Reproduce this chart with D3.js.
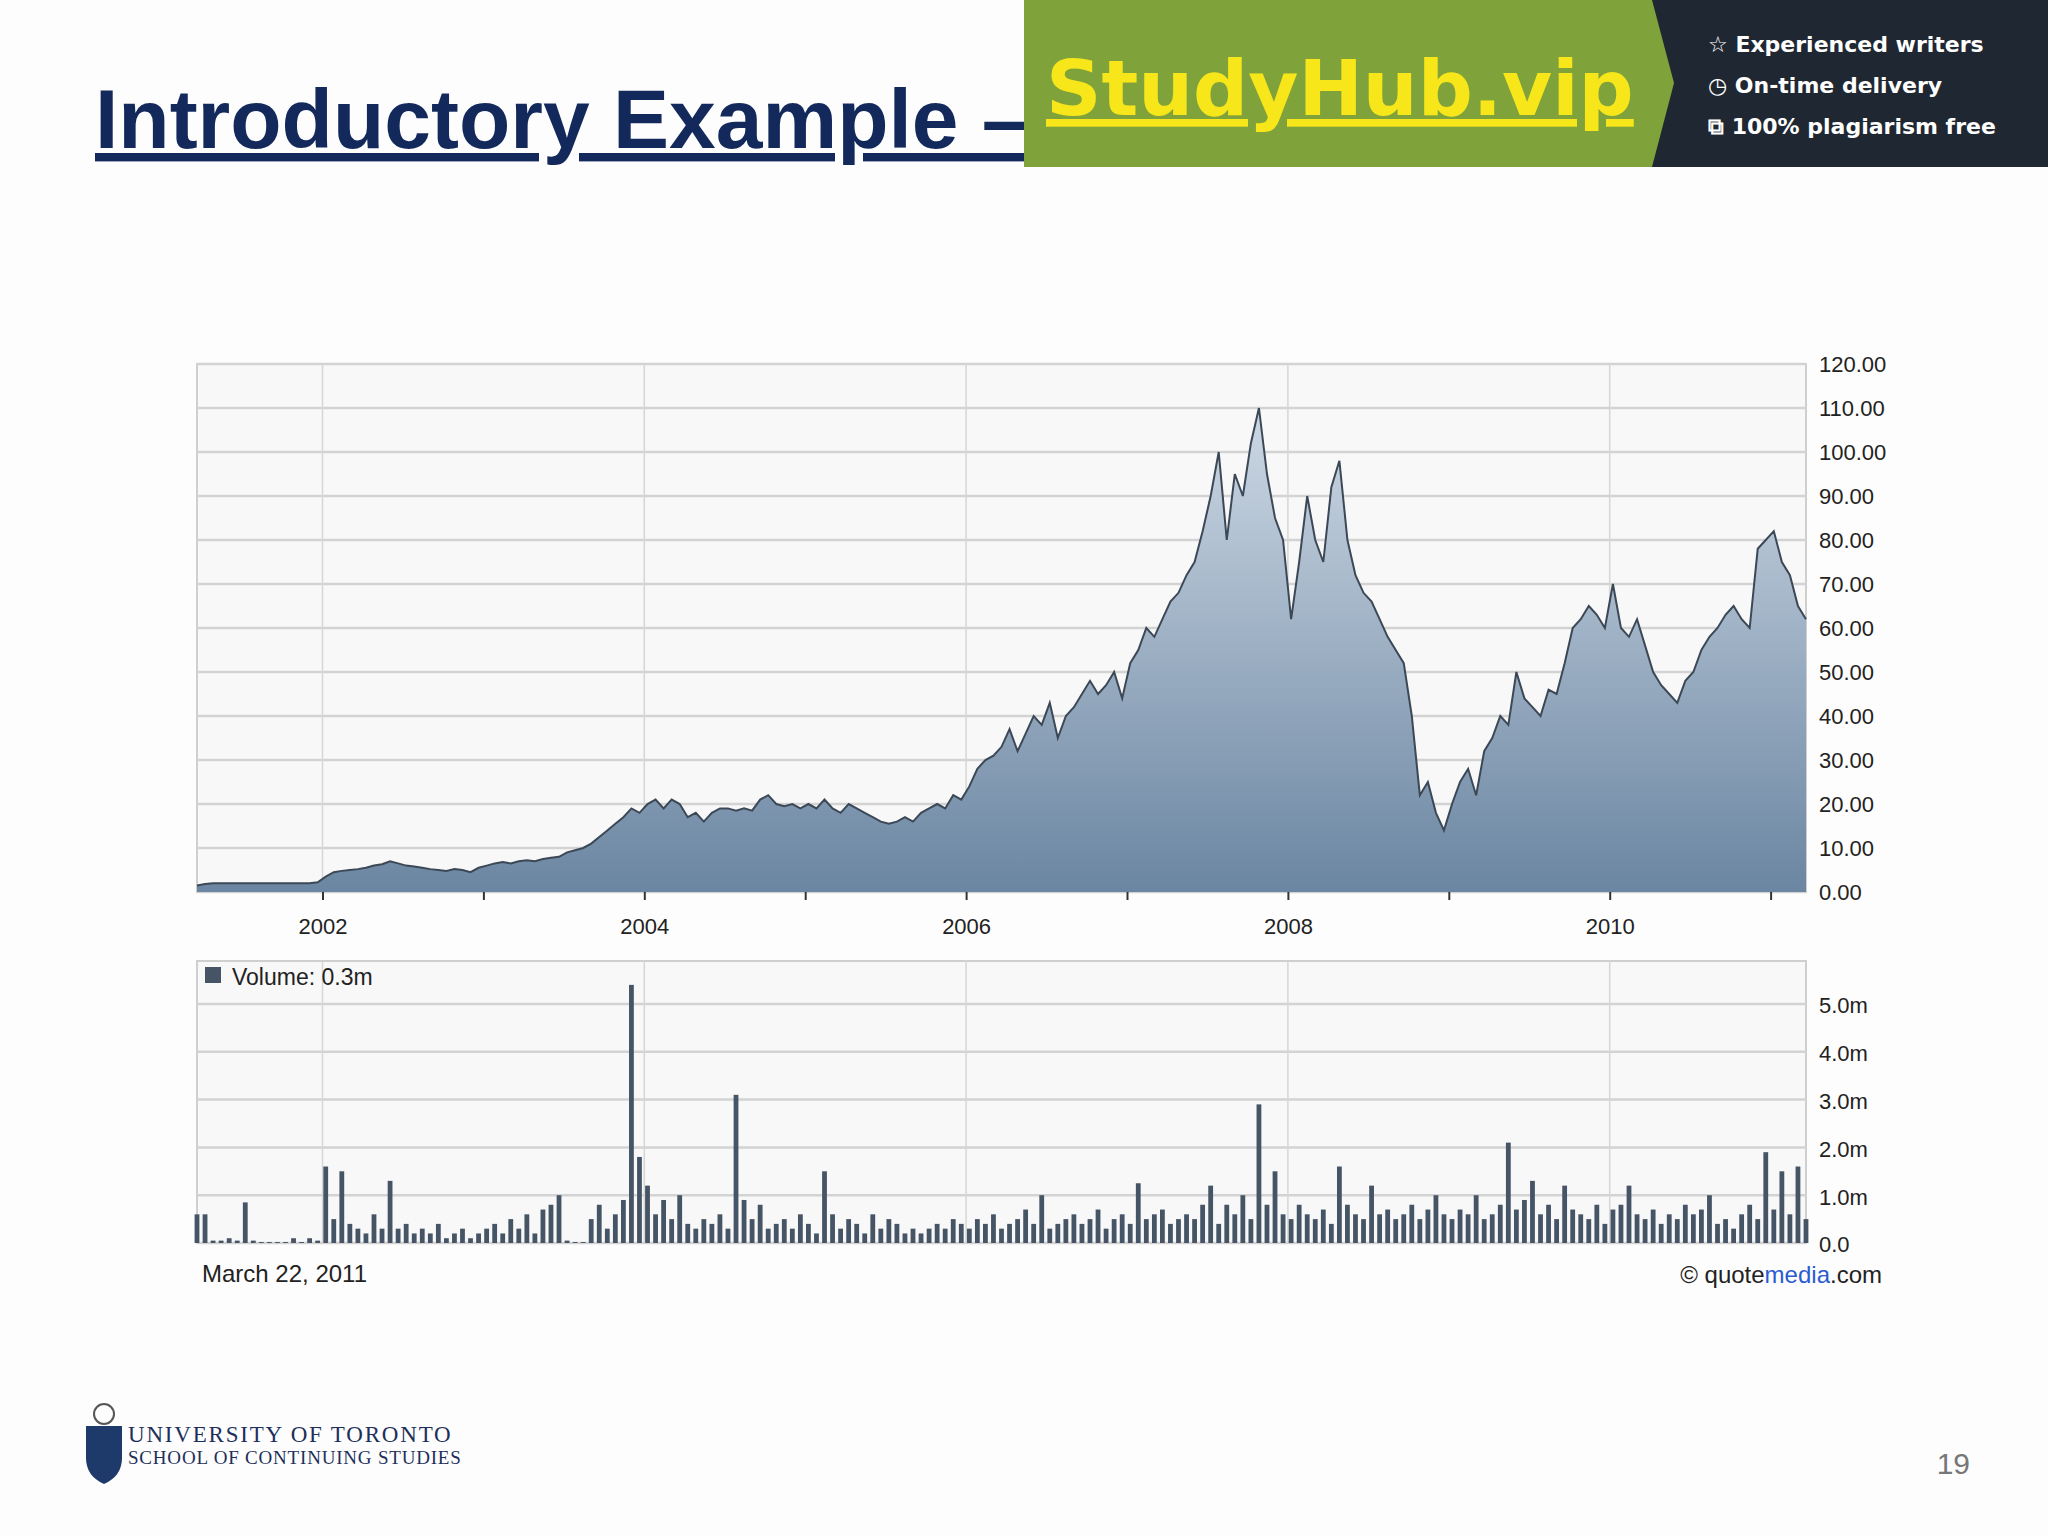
<!DOCTYPE html>
<html><head><meta charset="utf-8">
<script src="https://cdn.jsdelivr.net/npm/d3@7"></script>
<style>body{margin:0;background:#fdfdfd}svg{display:block}</style>
</head><body>
<svg id="slide" width="2048" height="1536"></svg>
<script>
// time grid: one sample every 0.05 year, from 2001.22 to 2011.22
const startYear = 2001.22, stepYear = 0.05;

const prices = [
  1.5,1.8,2,2,2,2,2,2,2,2,2,2,2,2,2,2.2,
  3.5,4.5,4.8,5,5.2,5.5,6,6.3,7,6.5,6,5.8,5.5,5.2,5,4.8,5.2,5,4.5,5.5,
  6,6.5,6.8,6.5,7,7.2,7,7.5,7.8,8,9,9.5,10,11,12.5,14,15.5,17,19,18,
  20,21,19,21,20,17,18,16,18,19,19,18.5,19,18.5,21,22,20,19.5,20,19,
  20,19,21,19,18,20,19,18,17,16,15.5,16,17,16,18,19,20,19,22,21,
  24,28,30,31,33,37,32,36,40,38,43,35,40,42,45,48,45,47,50,44,
  52,55,60,58,62,66,68,72,75,82,90,100,80,95,90,102,110,95,85,80,
  62,75,90,80,75,92,98,80,72,68,66,62,58,55,52,40,22,25,18,14,
  20,25,28,22,32,35,40,38,50,44,42,40,46,45,52,60,62,65,63,60,
  70,60,58,62,56,50,47,45,43,48,50,55,58,60,63,65,62,60,78,80,
  82,75,72,65,62
];

const volumes = [
  0.6,0.6,0.05,0.05,0.1,0.05,0.85,0.05,0.02,0.02,0.02,0.02,0.1,0.02,0.1,0.05,
  1.6,0.5,1.5,0.4,0.3,0.2,0.6,0.3,1.3,0.3,0.4,0.2,0.3,0.2,0.4,0.1,0.2,0.3,0.1,0.2,
  0.3,0.4,0.2,0.5,0.3,0.6,0.2,0.7,0.8,1.0,0.05,0.02,0.02,0.5,0.8,0.3,0.6,0.9,5.4,1.8,
  1.2,0.6,0.9,0.5,1.0,0.4,0.3,0.5,0.4,0.6,0.3,3.1,0.9,0.5,0.8,0.3,0.4,0.5,0.3,0.6,
  0.4,0.2,1.5,0.6,0.3,0.5,0.4,0.2,0.6,0.3,0.5,0.4,0.2,0.3,0.2,0.3,0.4,0.3,0.5,0.4,
  0.3,0.5,0.4,0.6,0.3,0.4,0.5,0.7,0.4,1.0,0.3,0.4,0.5,0.6,0.4,0.5,0.7,0.3,0.5,0.6,
  0.4,1.25,0.5,0.6,0.7,0.4,0.5,0.6,0.5,0.8,1.2,0.4,0.8,0.6,1.0,0.5,2.9,0.8,1.5,0.6,
  0.5,0.8,0.6,0.5,0.7,0.4,1.6,0.8,0.6,0.5,1.2,0.6,0.7,0.5,0.6,0.8,0.5,0.7,1.0,0.6,
  0.5,0.7,0.6,1.0,0.5,0.6,0.8,2.1,0.7,0.9,1.3,0.6,0.8,0.5,1.2,0.7,0.6,0.5,0.8,0.4,
  0.7,0.8,1.2,0.6,0.5,0.7,0.4,0.6,0.5,0.8,0.6,0.7,1.0,0.4,0.5,0.3,0.6,0.8,0.5,1.9,
  0.7,1.5,0.6,1.6,0.5
];

const yearLabels = [2002, 2004, 2006, 2008, 2010];
const minorYears = [2003, 2005, 2007, 2009, 2011];
const priceTicks = d3.range(0, 121, 10);
const volumeTicks = [0, 1, 2, 3, 4, 5];

const svg = d3.select("#slide");
const font = "'Liberation Sans', Arial, sans-serif";

// title
svg.append("text").attr("x", 95).attr("y", 148)
   .attr("font-family", font).attr("font-weight", "bold").attr("font-size", 84)
   .attr("fill", "#13295b").attr("text-decoration", "underline")
   .text("Introductory Example –");

// banner
const banner = svg.append("g");
banner.append("rect").attr("x", 1024).attr("y", 0).attr("width", 1024).attr("height", 167).attr("fill", "#1f2832");
banner.append("path").attr("d", "M1024,0H1652L1674,83L1652,167H1024Z").attr("fill", "#80a23a");
banner.append("text").attr("x", 1046).attr("y", 115)
   .attr("font-family", "'DejaVu Sans', sans-serif").attr("font-weight", "bold").attr("font-size", 77)
   .attr("fill", "#f6e61a").attr("text-decoration", "underline").text("StudyHub.vip");
["☆ Experienced writers", "◷ On-time delivery", "⧉ 100% plagiarism free"].forEach((t, i) => {
  banner.append("text").attr("x", 1708).attr("y", 52 + i * 41)
     .attr("font-family", "'DejaVu Sans', sans-serif").attr("font-weight", "bold").attr("font-size", 22)
     .attr("fill", "#ffffff").text(t);
});

// chart geometry
const left = 197, right = 1806;
const dateOf = i => startYear + i * stepYear;
const x = d3.scaleLinear().domain([startYear, startYear + (prices.length - 1) * stepYear]).range([left, right]);

const pTop = 364, pBot = 892;
const yP = d3.scaleLinear().domain([0, 120]).range([pBot, pTop]);
const vTop = 961, vBot = 1243;
const yV = d3.scaleLinear().domain([0, 5]).range([vBot, 1004]);

const defs = svg.append("defs");
const grad = defs.append("linearGradient").attr("id", "areaGrad").attr("x1", 0).attr("y1", 0).attr("x2", 0).attr("y2", 1);
grad.append("stop").attr("offset", "0%").attr("stop-color", "#cdd8e4");
grad.append("stop").attr("offset", "100%").attr("stop-color", "#6b86a2");

function panel(top, bot, ticks, yScale) {
  const g = svg.append("g");
  g.append("rect").attr("x", left).attr("y", top).attr("width", right - left).attr("height", bot - top)
   .attr("fill", "#f8f8f9").attr("stroke", "#cfcfcf").attr("stroke-width", 2);
  g.selectAll(".hg").data(ticks).enter().append("line")
   .attr("x1", left).attr("x2", right).attr("y1", d => yScale(d)).attr("y2", d => yScale(d))
   .attr("stroke", "#d3d3d3").attr("stroke-width", 2.5);
  g.selectAll(".vg").data(yearLabels).enter().append("line")
   .attr("x1", d => x(d)).attr("x2", d => x(d)).attr("y1", top).attr("y2", bot)
   .attr("stroke", "#d6d6d6").attr("stroke-width", 1.5);
  return g;
}

// price panel
panel(pTop, pBot, priceTicks, yP);
const area = d3.area().x((d, i) => x(dateOf(i))).y0(pBot).y1(d => yP(d));
svg.append("path").datum(prices).attr("d", area).attr("fill", "url(#areaGrad)");
svg.append("path").datum(prices).attr("d", d3.line().x((d, i) => x(dateOf(i))).y(d => yP(d)))
   .attr("fill", "none").attr("stroke", "#3c4856").attr("stroke-width", 2);

svg.append("g").attr("transform", `translate(${right + 10},0)`)
   .call(d3.axisRight(yP).tickValues(priceTicks).tickFormat(d3.format(".2f")).tickSize(0))
   .call(g => g.select(".domain").remove())
   .selectAll("text").attr("font-family", font).attr("font-size", 22).attr("fill", "#222");

const xAxis = svg.append("g").attr("transform", `translate(0,${pBot})`);
xAxis.call(d3.axisBottom(x).tickValues(yearLabels.concat(minorYears)).tickSize(8)
      .tickFormat(d => yearLabels.includes(d) ? d : ""))
   .call(g => g.select(".domain").remove());
xAxis.selectAll("line").attr("stroke", "#333").attr("stroke-width", 2);
xAxis.selectAll("text").attr("font-family", font).attr("font-size", 22).attr("fill", "#222").attr("dy", "1.4em");

// volume panel
panel(vTop, vBot, volumeTicks, yV);
const bw = (right - left) / volumes.length;
svg.append("g").selectAll("rect").data(volumes).enter().append("rect")
   .attr("x", (d, i) => x(dateOf(i)) - bw * 0.3).attr("width", bw * 0.6)
   .attr("y", d => yV(d)).attr("height", d => vBot - yV(d)).attr("fill", "#465566");
svg.append("g").attr("transform", `translate(${right + 10},0)`)
   .call(d3.axisRight(yV).tickValues(volumeTicks).tickFormat(d => d === 0 ? "0.0" : d.toFixed(1) + "m").tickSize(0))
   .call(g => g.select(".domain").remove())
   .selectAll("text").attr("font-family", font).attr("font-size", 22).attr("fill", "#222").attr("dy", "0.4em");

svg.append("rect").attr("x", 205).attr("y", 967).attr("width", 16).attr("height", 16).attr("fill", "#465566");
svg.append("text").attr("x", 232).attr("y", 985).attr("font-family", font).attr("font-size", 23).attr("fill", "#222").text("Volume: 0.3m");

svg.append("text").attr("x", 202).attr("y", 1282).attr("font-family", font).attr("font-size", 24).attr("fill", "#222").text("March 22, 2011");
const qm = svg.append("text").attr("x", 1882).attr("y", 1283).attr("text-anchor", "end")
   .attr("font-family", font).attr("font-size", 24).attr("fill", "#222");
qm.append("tspan").text("© quote");
qm.append("tspan").attr("fill", "#2a5bd0").text("media");
qm.append("tspan").text(".com");

// footer
const logo = svg.append("g");
logo.append("path").attr("d", "M86,1426H122V1458Q122,1476,104,1484Q86,1476,86,1458Z").attr("fill", "#1d3a6b");
logo.append("circle").attr("cx", 104).attr("cy", 1414).attr("r", 10).attr("fill", "none").attr("stroke", "#555").attr("stroke-width", 2);
logo.append("text").attr("x", 128).attr("y", 1442).attr("font-family", "'Liberation Serif', serif").attr("font-size", 23)
   .attr("fill", "#1d2f5a").attr("letter-spacing", 1.8).text("UNIVERSITY OF TORONTO");
logo.append("text").attr("x", 128).attr("y", 1464).attr("font-family", "'Liberation Serif', serif").attr("font-size", 19)
   .attr("fill", "#1d2f5a").attr("letter-spacing", 0.8).text("SCHOOL OF CONTINUING STUDIES");
svg.append("text").attr("x", 1970).attr("y", 1474).attr("text-anchor", "end").attr("font-family", font)
   .attr("font-size", 30).attr("fill", "#777").text("19");
</script>
</body></html>
